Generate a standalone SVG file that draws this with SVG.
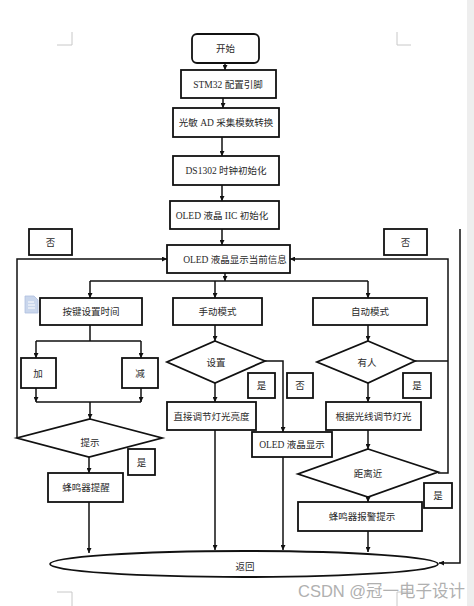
<svg xmlns="http://www.w3.org/2000/svg" width="474" height="606" viewBox="0 0 474 606">
<defs>
<style>
.n{fill:#fff;stroke:#111;stroke-width:1.8}
.t{font-family:"Liberation Serif","Noto Sans CJK SC",serif;font-size:9.5px;fill:#2a2a2a;text-anchor:middle;dominant-baseline:central}
.c{fill:none;stroke:#111;stroke-width:1.5}
.m{fill:none;stroke:#c8c8c8;stroke-width:1}
</style>
<marker id="a" viewBox="0 0 10 10" refX="10" refY="5" markerWidth="5" markerHeight="5" orient="auto" markerUnits="userSpaceOnUse">
<path d="M0,0 L10,5 L0,10 z" fill="#111"/>
</marker>
</defs>
<rect width="474" height="606" fill="#fff"/>
<rect x="467" y="0" width="7" height="606" fill="#eeeeee"/>
<g id="marks">
<path class="m" d="M57,45 H72 V32 M397,32 V45 H411 M57,592 H72 V606 M397,606 V592 H411"/>
<path d="M25,296 h9 l4,4 v13 h-13 z" fill="#c9d6ec" stroke="#aebfe0" stroke-width="0.8"/>
<path d="M28,302 h6 M28,305 h7 M28,308 h7" stroke="#fff" stroke-width="1"/>
<path d="M50,302 l2,2 l2,-2" fill="none" stroke="#888" stroke-width="0.8"/>
</g>
<g id="connectors">
<path class="c" marker-end="url(#a)" d="M225,63 V70"/>
<path class="c" marker-end="url(#a)" d="M223,98 V108"/>
<path class="c" marker-end="url(#a)" d="M222,137 V156"/>
<path class="c" marker-end="url(#a)" d="M222,185 V201"/>
<path class="c" marker-end="url(#a)" d="M222,229 V245"/>
<path class="c" marker-end="url(#a)" d="M17,438 V259 H167"/>
<path class="c" marker-end="url(#a)" d="M438,473 H448 V259 H290"/>
<path class="c" d="M415,361 H448"/>
<path class="c" marker-end="url(#a)" d="M225,273 V281"/>
<path class="c" d="M90,281 H368"/>
<path class="c" marker-end="url(#a)" d="M90,281 V298"/>
<path class="c" marker-end="url(#a)" d="M215,281 V298"/>
<path class="c" marker-end="url(#a)" d="M368,281 V298"/>
<path class="c" d="M90,325 V341 M36,341 H141"/>
<path class="c" marker-end="url(#a)" d="M36,341 V358"/>
<path class="c" marker-end="url(#a)" d="M141,341 V358"/>
<path class="c" marker-end="url(#a)" d="M36,388 V402"/>
<path class="c" marker-end="url(#a)" d="M141,388 V402"/>
<path class="c" d="M36,402 H141"/>
<path class="c" marker-end="url(#a)" d="M90,402 V419"/>
<path class="c" marker-end="url(#a)" d="M89,457 V473"/>
<path class="c" marker-end="url(#a)" d="M89,502 V553"/>
<path class="c" marker-end="url(#a)" d="M215,325 V341"/>
<path class="c" marker-end="url(#a)" d="M215,383 V402"/>
<path class="c" marker-end="url(#a)" d="M265,361 H283 V432"/>
<path class="c" marker-end="url(#a)" d="M215,430 V550"/>
<path class="c" marker-end="url(#a)" d="M283,457 V550"/>
<path class="c" marker-end="url(#a)" d="M368,325 V341"/>
<path class="c" marker-end="url(#a)" d="M368,383 V402"/>
<path class="c" marker-end="url(#a)" d="M368,430 V449"/>
<path class="c" marker-end="url(#a)" d="M368,497 V502"/>
<path class="c" marker-end="url(#a)" d="M368,531 V552"/>
<path class="c" marker-end="url(#a)" d="M460,229 V563 H439"/>
</g>
<g id="start"><rect class="n" x="192" y="34" width="67" height="29" rx="5"/><text class="t" x="225.5" y="49">开始</text></g>
<g id="stm32"><rect class="n" x="181" y="70" width="95" height="28"/><text class="t" x="228" y="84.5">STM32 配置引脚</text></g>
<g id="adc"><rect class="n" x="173" y="108" width="106" height="29"/><text class="t" x="226" y="123">光敏 AD 采集模数转换</text></g>
<g id="ds1302"><rect class="n" x="173" y="156" width="106" height="29"/><text class="t" x="226" y="171">DS1302 时钟初始化</text></g>
<g id="oledinit"><rect class="n" x="170" y="201" width="109" height="28"/><text class="t" x="222" y="215.5">OLED 液晶 IIC 初始化</text></g>
<g id="no1"><rect class="n" x="29" y="229" width="43" height="26"/><text class="t" x="50.5" y="242.5">否</text></g>
<g id="no2"><rect class="n" x="384" y="229" width="43" height="26"/><text class="t" x="405.5" y="242.5">否</text></g>
<g id="oledshow"><rect class="n" x="167" y="245" width="123" height="28"/><text class="t" x="235" y="259.5">OLED 液晶显示当前信息</text></g>
<g id="keyset"><rect class="n" x="40" y="298" width="102" height="27"/><text class="t" x="91" y="312">按键设置时间</text></g>
<g id="manual"><rect class="n" x="173" y="298" width="89" height="27"/><text class="t" x="217.5" y="312">手动模式</text></g>
<g id="auto"><rect class="n" x="313" y="298" width="114" height="27"/><text class="t" x="370" y="312">自动模式</text></g>
<g id="add"><rect class="n" x="21" y="358" width="35" height="30"/><text class="t" x="38" y="373.5">加</text></g>
<g id="sub"><rect class="n" x="122" y="358" width="36" height="30"/><text class="t" x="140" y="373.5">减</text></g>
<g id="setdia"><path class="n" d="M215,341 L265,361 L215,383 L167,362 Z"/><text class="t" x="216" y="363">设置</text></g>
<g id="persondia"><path class="n" d="M368,341 L415,361 L368,383 L317,362 Z"/><text class="t" x="367" y="363">有人</text></g>
<g id="yes1"><rect class="n" x="248" y="373" width="27" height="25"/><text class="t" x="261.5" y="386">是</text></g>
<g id="no3"><rect class="n" x="287" y="373" width="26" height="25"/><text class="t" x="300" y="386">否</text></g>
<g id="yes2"><rect class="n" x="403" y="373" width="28" height="25"/><text class="t" x="417" y="386">是</text></g>
<g id="direct"><rect class="n" x="167" y="402" width="89" height="28"/><text class="t" x="211.5" y="416.5">直接调节灯光亮度</text></g>
<g id="bylight"><rect class="n" x="326" y="402" width="95" height="28"/><text class="t" x="373.5" y="416.5">根据光线调节灯光</text></g>
<g id="hintdia"><path class="n" d="M90,419 L162,438 L89,457 L17,438 Z"/><text class="t" x="90" y="443">提示</text></g>
<g id="oledlcd"><rect class="n" x="252" y="432" width="80" height="25"/><text class="t" x="292" y="445">OLED 液晶显示</text></g>
<g id="yes3"><rect class="n" x="128" y="449" width="27" height="26"/><text class="t" x="141.5" y="462.5">是</text></g>
<g id="neardia"><path class="n" d="M368,449 L438,472 L368,497 L298,474 Z"/><text class="t" x="368" y="474">距离近</text></g>
<g id="buzz1"><rect class="n" x="48" y="473" width="75" height="29"/><text class="t" x="86" y="488">蜂鸣器提醒</text></g>
<g id="yes4"><rect class="n" x="424" y="483" width="28" height="25"/><text class="t" x="438" y="496">是</text></g>
<g id="buzz2"><rect class="n" x="298" y="502" width="124" height="29"/><text class="t" x="362" y="517">蜂鸣器报警提示</text></g>
<g id="ret"><ellipse class="n" cx="244" cy="564" rx="194" ry="13"/><text class="t" x="245" y="567">返回</text></g>
<text x="298" y="597" font-family="'Liberation Sans','Noto Sans CJK SC',sans-serif" font-size="16.5" fill="#b0b0b0">CSDN @冠一电子设计</text>
</svg>
